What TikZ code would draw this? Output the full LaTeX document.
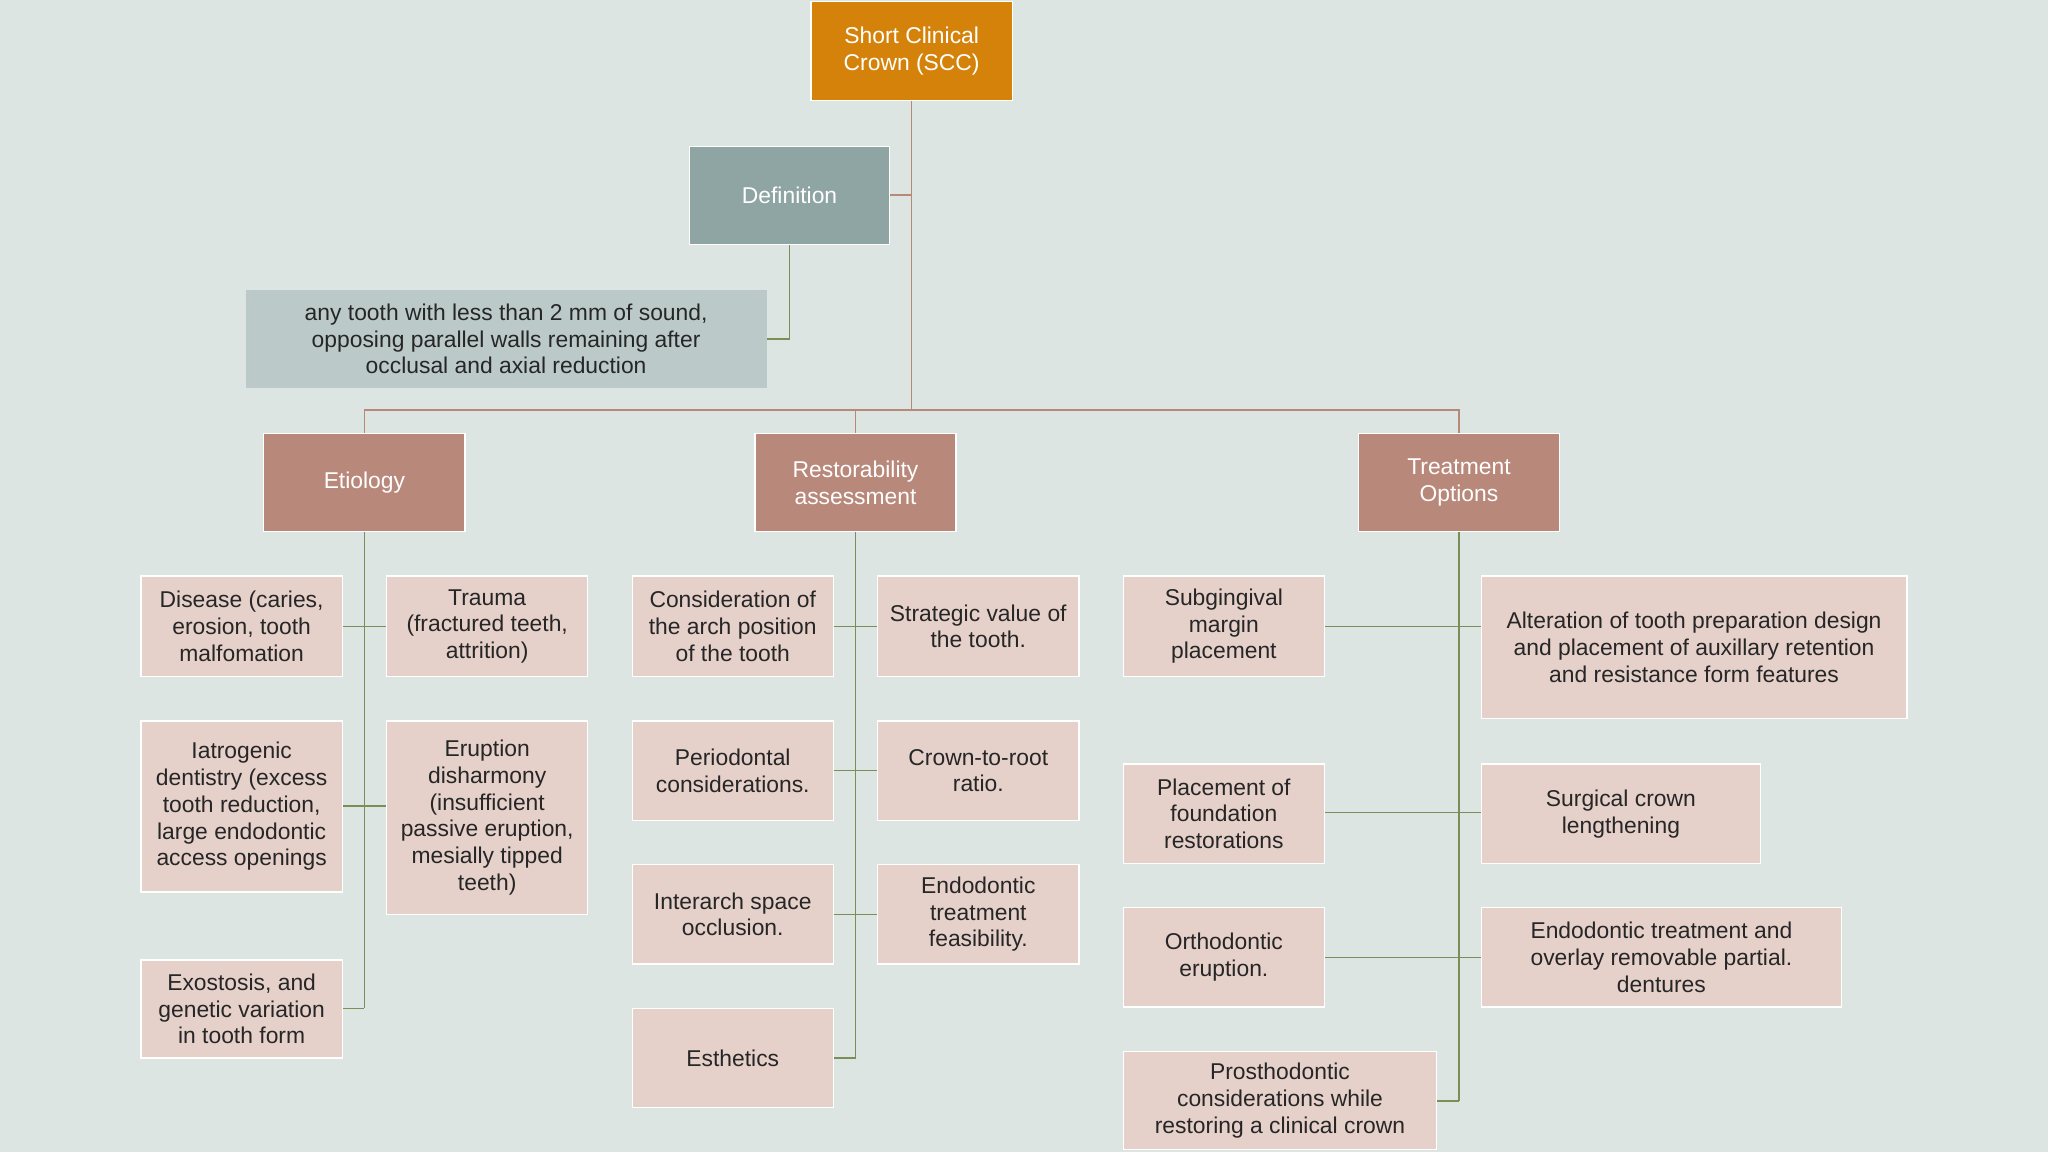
\documentclass[tikz,border=0pt]{standalone}
\usepackage{fontspec}
\setmainfont{Liberation Sans}
\begin{document}
\begin{tikzpicture}[x=1pt,y=-1pt,
  box/.style={draw=white,line width=1pt,align=center,inner sep=1pt,font=\fontsize{17.5}{20.5}\selectfont},
  lt/.style={box,fill=cellpink,text=black!85},
  hd/.style={box,fill=headbrown,text=white},
  gl/.style={draw=linegreen,line width=1.2pt},
  bl/.style={draw=linebrown,line width=1.2pt}]
\definecolor{bgc}{HTML}{DDE5E3}
\definecolor{cellpink}{HTML}{E6D0CA}
\definecolor{headbrown}{HTML}{B8887A}
\definecolor{linegreen}{HTML}{7A8F58}
\definecolor{linebrown}{HTML}{B88878}
\fill[bgc] (0,0) rectangle (1568,882);
\useasboundingbox (0,0) rectangle (1568,882);
\newcommand\bx[7]{\node[#1,minimum width=#4-#3,minimum height=#6-#5] (#2) at ({(#3+#4)/2},{(#5+#6)/2}) {#7};}
\bx{box,fill={rgb,255:red,212;green,130;blue,10},text=white}{scc}{621}{775}{1}{77}{Short Clinical\\Crown (SCC)}
\bx{box,fill={rgb,255:red,143;green,165;blue,163},text=white}{def}{528}{681}{112}{187}{Definition}
\bx{box,fill={rgb,255:red,188;green,201;blue,201},text=black!85,draw=none}{deft}{188}{587}{222}{297}{any tooth with less than 2 mm of sound,\\opposing parallel walls remaining after\\occlusal and axial reduction}
\bx{hd}{eti}{202}{356}{332}{407}{Etiology}
\bx{hd}{res}{578}{732}{332}{407}{Restorability\\assessment}
\bx{hd}{tre}{1040}{1194}{332}{407}{Treatment\\Options}
% etiology
\bx{lt}{e1}{108}{262}{441}{518}{Disease (caries,\\erosion, tooth\\malfomation}
\bx{lt}{e2}{296}{450}{441}{518}{Trauma\\(fractured teeth,\\attrition)}
\bx{lt}{e3}{108}{262}{552}{683}{Iatrogenic\\dentistry (excess\\tooth reduction,\\large endodontic\\access openings}
\bx{lt}{e4}{296}{450}{552}{700}{Eruption\\disharmony\\(insufficient\\passive eruption,\\mesially tipped\\teeth)}
\bx{lt}{e5}{108}{262}{735}{810}{Exostosis, and\\genetic variation\\in tooth form}
% restorability
\bx{lt}{r1}{484}{638}{441}{518}{Consideration of\\the arch position\\of the tooth}
\bx{lt}{r2}{672}{826}{441}{518}{Strategic value of\\the tooth.}
\bx{lt}{r3}{484}{638}{552}{628}{Periodontal\\considerations.}
\bx{lt}{r4}{672}{826}{552}{628}{Crown-to-root\\ratio.}
\bx{lt}{r5}{484}{638}{662}{738}{Interarch space\\occlusion.}
\bx{lt}{r6}{672}{826}{662}{738}{Endodontic\\treatment\\feasibility.}
\bx{lt}{r7}{484}{638}{772}{848}{Esthetics}
% treatment
\bx{lt}{t1}{860}{1014}{441}{518}{Subgingival\\margin\\placement}
\bx{lt}{t2}{1134}{1460}{441}{550}{Alteration of tooth preparation design\\and placement of auxillary retention\\and resistance form features}
\bx{lt}{t3}{860}{1014}{585}{661}{Placement of\\foundation\\restorations}
\bx{lt}{t4}{1134}{1348}{585}{661}{Surgical crown\\lengthening}
\bx{lt}{t5}{860}{1014}{695}{771}{Orthodontic\\eruption.}
\bx{lt}{t6}{1134}{1410}{695}{771}{Endodontic treatment and\\overlay removable partial.\\dentures}
\bx{lt}{t7}{860}{1100}{805}{880}{Prosthodontic\\considerations while\\restoring a clinical crown}
% top connectors
\coordinate (hub) at (698,314);
\draw[bl] (scc.south) -- (hub);
\draw[bl] (def.east) -- (def.east -| hub);
\draw[bl] (eti.north) |- (hub) -| (tre.north);
\draw[bl] (res.north) -- (res.north |- hub);
\draw[gl] (def.south) |- (deft.east);
% etiology trunk
\coordinate (et) at (279,772);
\draw[gl] (eti.south) -- (et);
\draw[gl] (e1.east) -- (e2.west);
\draw[gl] (e3.east |- 0,617) -- (e4.west |- 0,617);
\draw[gl] (e5.east |- et) -- (et);
% restorability trunk
\coordinate (rt) at (655,810);
\draw[gl] (res.south) -- (rt);
\draw[gl] (r1.east) -- (r2.west);
\draw[gl] (r3.east |- 0,590) -- (r4.west |- 0,590);
\draw[gl] (r5.east |- 0,700) -- (r6.west |- 0,700);
\draw[gl] (r7.east |- rt) -- (rt);
% treatment trunk
\coordinate (tt) at (1117,843);
\draw[gl] (tre.south) -- (tt);
\draw[gl] (t1.east) -- (t2.west |- t1.east);
\draw[gl] (t3.east |- 0,622) -- (t4.west |- 0,622);
\draw[gl] (t5.east |- 0,733) -- (t6.west |- 0,733);
\draw[gl] (t7.east |- tt) -- (tt);
\end{tikzpicture}
\end{document}
